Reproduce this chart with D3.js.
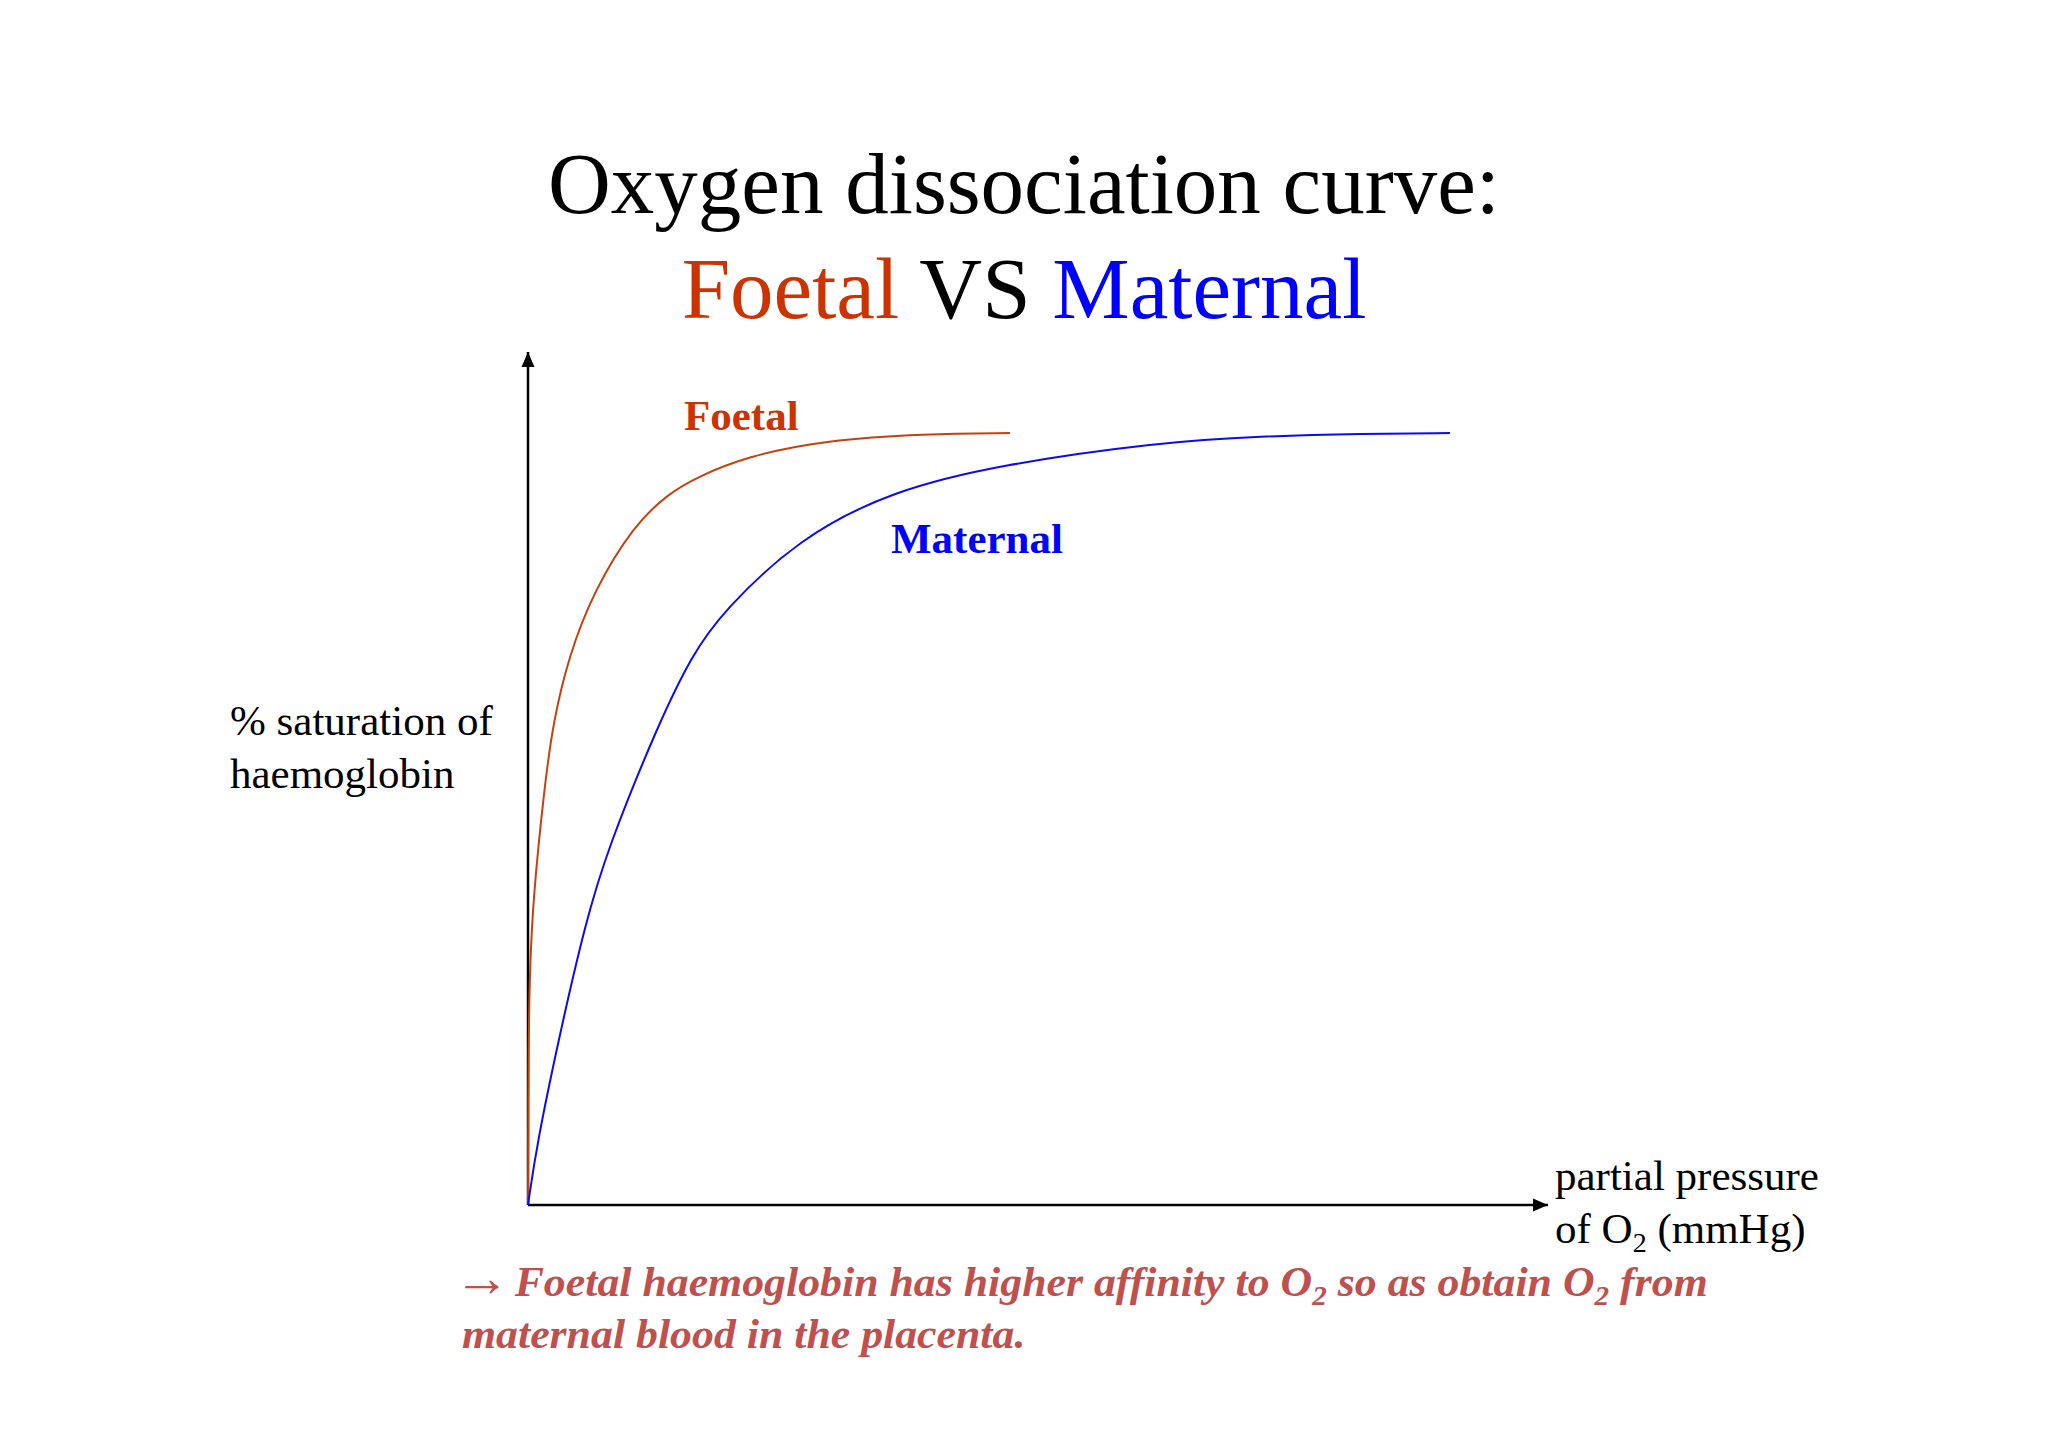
<!DOCTYPE html>
<html><head><meta charset="utf-8">
<script src="https://cdn.jsdelivr.net/npm/d3@7"></script>
<style>body{margin:0;background:#fff} svg{display:block}</style>
</head><body>
<svg id="c" width="2048" height="1448"></svg>
<script>
// ---- data (arbitrary pO2 units 0..100, % saturation) ----
const foetalPO2 = [0, 0.05, 0.2, 0.49, 1.57, 2.45, 4.02, 6.47, 10.39, 13.82, 16.57, 21.47, 29.22, 38.92, 47.25];
const foetalSat = [0, 22.3, 30.8, 39.5, 53.7, 62.5, 71.2, 79.6, 88.1, 92.2, 94.3, 97.0, 99.1, 99.9, 100];
const maternalPO2 = [0, 0.88, 3.14, 5.59, 7.75, 12.94, 16.08, 19.02, 26.67, 35.69, 46.27, 61.86, 71.86, 81.86, 90.39];
const maternalSat = [0, 8.0, 22.3, 36.3, 46.0, 62.8, 71.2, 76.8, 86.5, 92.5, 95.9, 98.8, 99.6, 99.9, 100];
const titleLine1 = "Oxygen dissociation curve:";
const titleLine2 = [["Foetal", "#cc3300"], [" VS ", "#000000"], ["Maternal", "#0000ff"]];
const yLabelLines = ["% saturation of", "haemoglobin"];
const seriesLabels = ["Foetal", "Maternal"];
const footLine1 = [["\u2192", "arrow"], [" Foetal haemoglobin has higher affinity to O", "n"], ["2", "sub"], [" so as obtain O", "n"], ["2", "sub"], [" from", "n"]];
const footLine2 = "maternal blood in the placenta.";

const svg = d3.select("#c");
const serif = "'Liberation Serif','Times New Roman',serif";
const X_MAX = 100, Y_MAX = 110.5;
const x = d3.scaleLinear().domain([0, X_MAX]).range([528, 1548]);
const y = d3.scaleLinear().domain([0, Y_MAX]).range([1205, 352]);

// arrow marker
const defs = svg.append("defs");
defs.append("marker").attr("id", "arr").attr("markerUnits", "userSpaceOnUse")
  .attr("viewBox", "0 -7 15 14").attr("refX", 15).attr("refY", 0)
  .attr("markerWidth", 15).attr("markerHeight", 14).attr("orient", "auto")
  .append("path").attr("d", "M0,-6.5L15,0L0,6.5Z").attr("fill", "#000");

// axes (no ticks)
const axG = svg.append("g");
axG.append("line").attr("x1", x(0)).attr("y1", y(0)).attr("x2", x(X_MAX)).attr("y2", y(0))
  .attr("stroke", "#000").attr("stroke-width", 2.5).attr("marker-end", "url(#arr)");
axG.append("line").attr("x1", x(0)).attr("y1", y(0)).attr("x2", x(0)).attr("y2", y(Y_MAX))
  .attr("stroke", "#000").attr("stroke-width", 2.5).attr("marker-end", "url(#arr)");

// curves
const line = d3.line().x(d => x(d[0])).y(d => y(d[1])).curve(d3.curveBasis);
svg.append("path").datum(foetalPO2.map((p, i) => [p, foetalSat[i]]))
  .attr("d", line).attr("fill", "none").attr("stroke", "#c8400c").attr("stroke-width", 2);
svg.append("path").datum(maternalPO2.map((p, i) => [p, maternalSat[i]]))
  .attr("d", line).attr("fill", "none").attr("stroke", "#0b0bf0").attr("stroke-width", 2);

// series labels
svg.append("text").attr("x", 684).attr("y", 430).attr("font-family", serif).attr("font-weight", "bold")
  .attr("font-size", 43).attr("fill", "#cc3300").text(seriesLabels[0]);
svg.append("text").attr("x", 891).attr("y", 553).attr("font-family", serif).attr("font-weight", "bold")
  .attr("font-size", 43).attr("fill", "#0000ff").text(seriesLabels[1]);

// title
svg.append("text").attr("x", 1024).attr("y", 213).attr("text-anchor", "middle")
  .attr("font-family", serif).attr("font-size", 87).attr("fill", "#000").text(titleLine1);
const t2 = svg.append("text").attr("x", 1024).attr("y", 318).attr("text-anchor", "middle")
  .attr("font-family", serif).attr("font-size", 87);
titleLine2.forEach(([s, c]) => t2.append("tspan").attr("fill", c).text(s));

// y label
yLabelLines.forEach((s, i) => svg.append("text").attr("x", 230).attr("y", 735 + i * 53)
  .attr("font-family", serif).attr("font-size", 43).attr("fill", "#000").text(s));

// x label
svg.append("text").attr("x", 1555).attr("y", 1190).attr("font-family", serif).attr("font-size", 43)
  .attr("fill", "#000").text("partial pressure");
const xl2 = svg.append("text").attr("x", 1555).attr("y", 1243).attr("font-family", serif)
  .attr("font-size", 43).attr("fill", "#000");
xl2.append("tspan").text("of O");
xl2.append("tspan").attr("font-size", 28).attr("dy", 9).text("2");
xl2.append("tspan").attr("dy", -9).text(" (mmHg)");

// footnote
const fc = "#c0504d";
const X0 = 462;
const f1 = svg.append("text").attr("x", X0).attr("y", 1296).attr("font-family", serif)
  .attr("font-weight", "bold").attr("font-style", "italic").attr("font-size", 42).attr("fill", fc);
let shifted = false;
footLine1.forEach(([s, kind]) => {
  const ts = f1.append("tspan").text(s);
  if (kind === "arrow") ts.attr("font-size", 54).attr("font-style", "normal").attr("font-weight", "normal").attr("dx", -8);
  else if (kind === "sub") { ts.attr("font-size", 28).attr("dy", 9); shifted = true; }
  else if (shifted) { ts.attr("dy", -9); shifted = false; }
  if (kind === "n" && s.startsWith(" Foetal")) ts.attr("dx", -6);
});
const f2 = svg.append("text").attr("x", X0).attr("y", 1348).attr("font-family", serif)
  .attr("font-weight", "bold").attr("font-style", "italic").attr("font-size", 42).attr("fill", fc).text(footLine2);
// fit line 1 right edge to the reference (x = 1708)
const bb = f1.node().getBBox();
const k = (1708 - X0) / (bb.x + bb.width - X0);
[f1, f2].forEach(t => t.attr("transform", `translate(${X0},0) scale(${k},1) translate(${-X0},0)`));
</script>
</body></html>
